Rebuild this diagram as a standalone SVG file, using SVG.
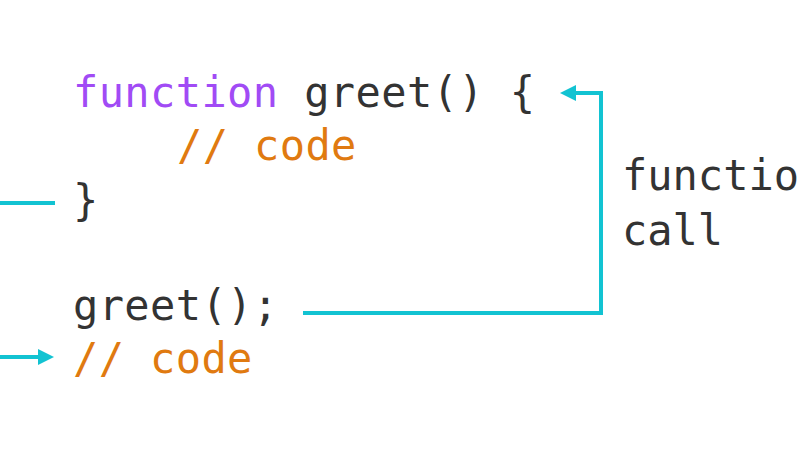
<svg xmlns="http://www.w3.org/2000/svg" width="800" height="450" viewBox="0 0 800 450">
<style>
text{font-family:"DejaVu Sans Mono","Liberation Mono",monospace;font-size:42px;fill:#333}
.kw{fill:#a14bf5}.cm{fill:#e07a10}
.c{fill:none;stroke:#12c3d2;stroke-width:4}
</style>
<defs><marker id="ah" markerWidth="4" markerHeight="4" refX="2" refY="2" orient="auto"><path d="M0,0L4,2L0,4Z" fill="#12c3d2"/></marker></defs>
<rect width="800" height="450" fill="#fff"/>
<g id="code">
<text x="73" y="107" letter-spacing="0.4"><tspan class="kw">function</tspan> greet() {</text>
<text x="177" y="160" class="cm" letter-spacing="0.4">// code</text>
<text x="73" y="215">}</text>
<text x="73" y="320" letter-spacing="0.4">greet();</text>
<text x="73" y="373" class="cm" letter-spacing="0.4">// code</text>
</g>
<g id="label"><text x="622" y="190">function</text><text x="622" y="245">call</text></g>
<g id="connectors">
<path class="c" d="M0,203H55"/>
<path class="c" d="M0,357H46" marker-end="url(#ah)"/>
<path class="c" d="M303,313H601V93H568" marker-end="url(#ah)"/>
</g>
</svg>
